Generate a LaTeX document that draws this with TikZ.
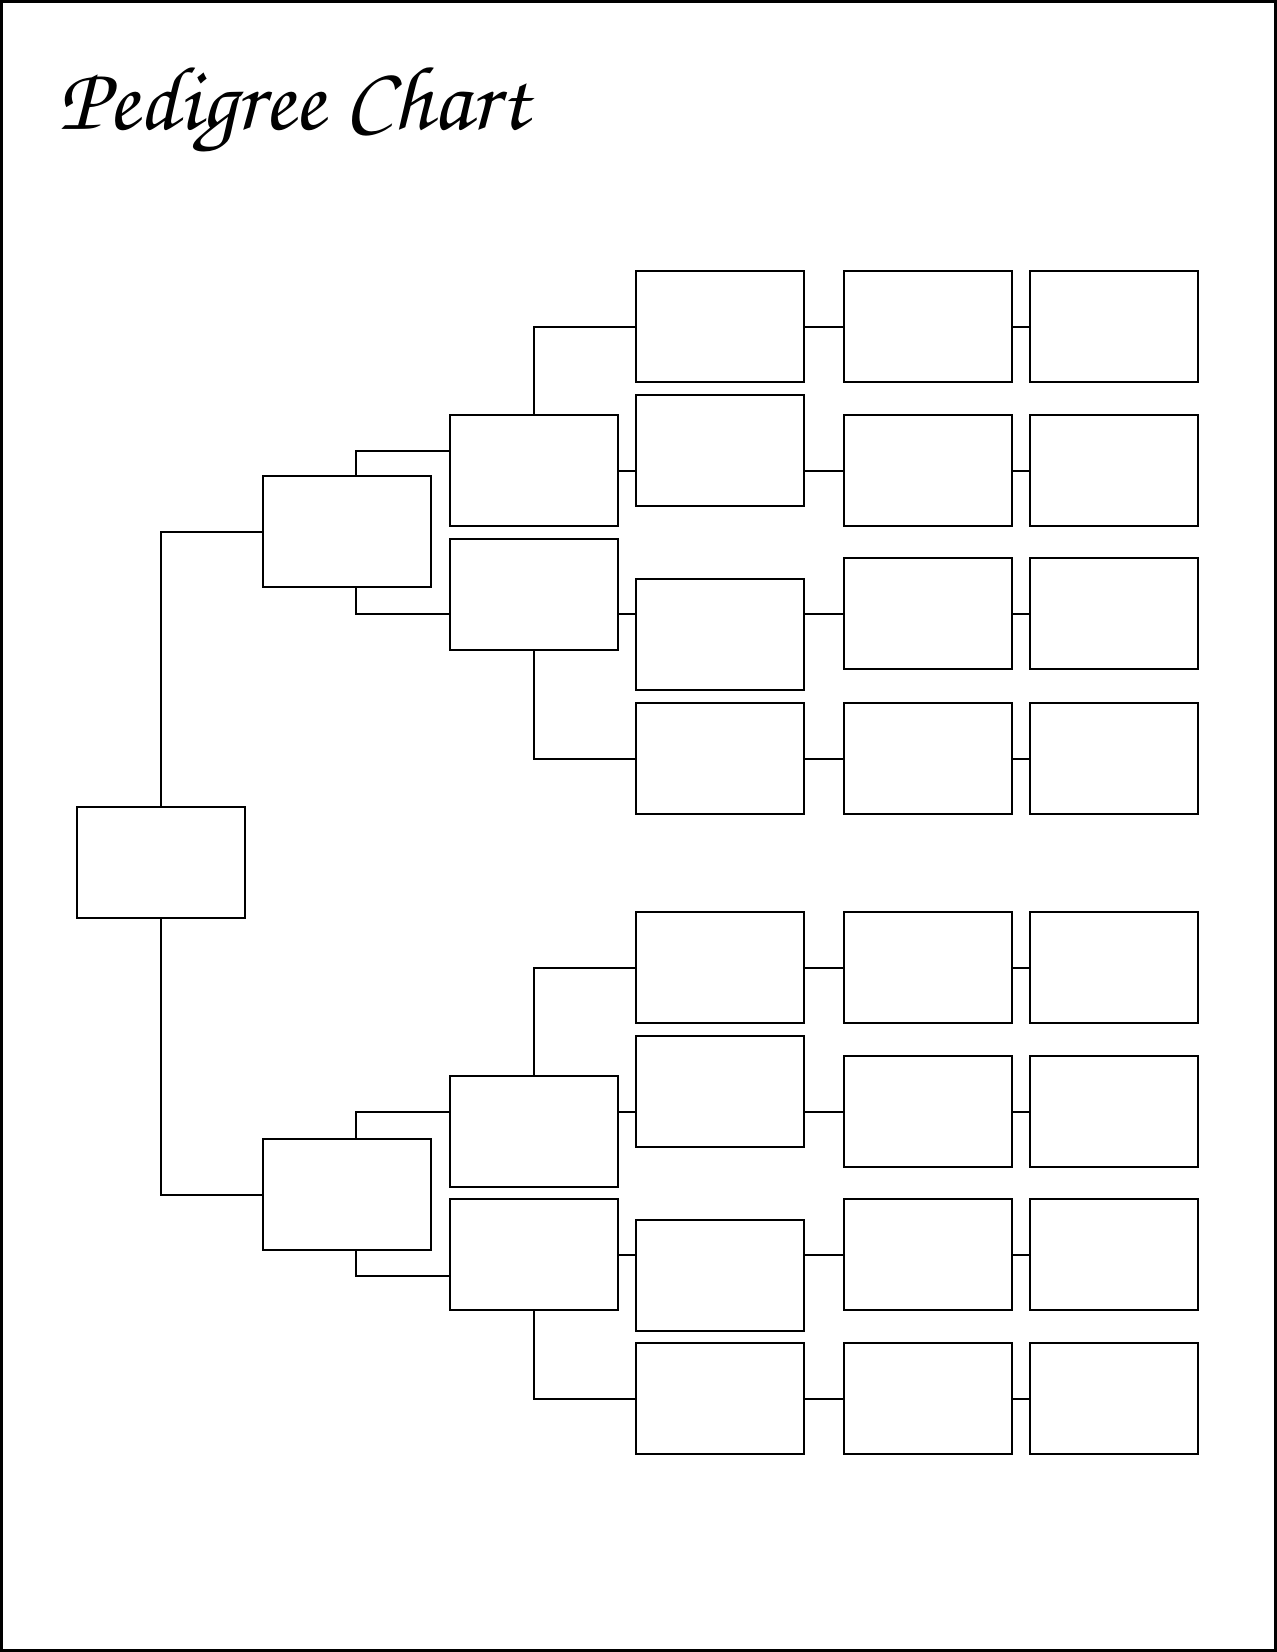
\documentclass[tikz,border=0pt]{standalone}
\usepackage{fontspec}
\newfontfamily\chartfont{TeX Gyre Chorus}
\usepackage{tikz}
\usetikzlibrary{positioning}

\tikzset{
    person/.style={draw, line width=2.3pt, minimum width=168pt, minimum height=111pt,
        inner sep=0pt, anchor=north west},
    link/.style={line width=2.3pt},
}

\begin{document}
\begin{tikzpicture}[x=1pt, y=-1pt]
    \useasboundingbox (0,0) rectangle (1277,1652);
    \draw[line width=3pt] (1.5,1.5) rectangle (1275.5,1650.5);

    % Title
    \node[anchor=base west, inner sep=0pt] (title) at (58,129)
        {\chartfont\fontsize{91}{96}\selectfont Pedigree Chart};

    % Generations 1 to 3
    \node[person] (g1) at (76,806) {};
    \node[person] (g2a) at (262,475) {};
    \node[person] (g2b) at (262,1138) {};
    \node[person] (g3a) at (449,414) {};
    \node[person] (g3b) at (449,538) {};
    \node[person] (g3c) at (449,1075) {};
    \node[person] (g3d) at (449,1198) {};

    % Generation 4
    \foreach \r/\y in {a/270, b/394, c/578, d/702, e/911, f/1035, g/1219, h/1342} {
        \node[person] (g4\r) at (635,\y) {};
    }

    % Generations 5 and 6, one row each
    \foreach \r/\y in {a/270, b/414, c/557, d/702, e/911, f/1055, g/1198, h/1342} {
        \node[person] (g5\r) at (843,\y) {};
        \node[person] (g6\r) at (1029,\y) {};
        \draw[link] (g5\r.west -| g4\r.east) -- (g5\r.west);
        \draw[link] (g5\r.east) -- (g6\r.west);
    }

    % Parents of the first person
    \draw[link] (g1.north) |- (g2a.west);
    \draw[link] (g1.south) |- (g2b.west);

    % Grandparents
    \draw[link] ([xshift=9pt]g2a.north) |- (g4b.west -| g3a.west);
    \draw[link] ([xshift=9pt]g2a.south) |- (g5c.west -| g3b.west);
    \draw[link] ([xshift=9pt]g2b.north) |- (g5f.west -| g3c.west);
    \draw[link] ([xshift=9pt]g2b.south) |- (g4g.west -| g3d.west);

    % Great-grandparents
    \draw[link] (g3a.north) |- (g4a.west);
    \draw[link] (g3a.east) -- (g3a.east -| g4b.west);
    \draw[link] (g5c.west -| g3b.east) -- (g5c.west -| g4c.west);
    \draw[link] (g3b.south) |- (g4d.west);
    \draw[link] (g3c.north) |- (g4e.west);
    \draw[link] (g5f.west -| g3c.east) -- (g5f.west -| g4f.west);
    \draw[link] (g3d.east) -- (g3d.east -| g4g.west);
    \draw[link] (g3d.south) |- (g4h.west);
\end{tikzpicture}
\end{document}
